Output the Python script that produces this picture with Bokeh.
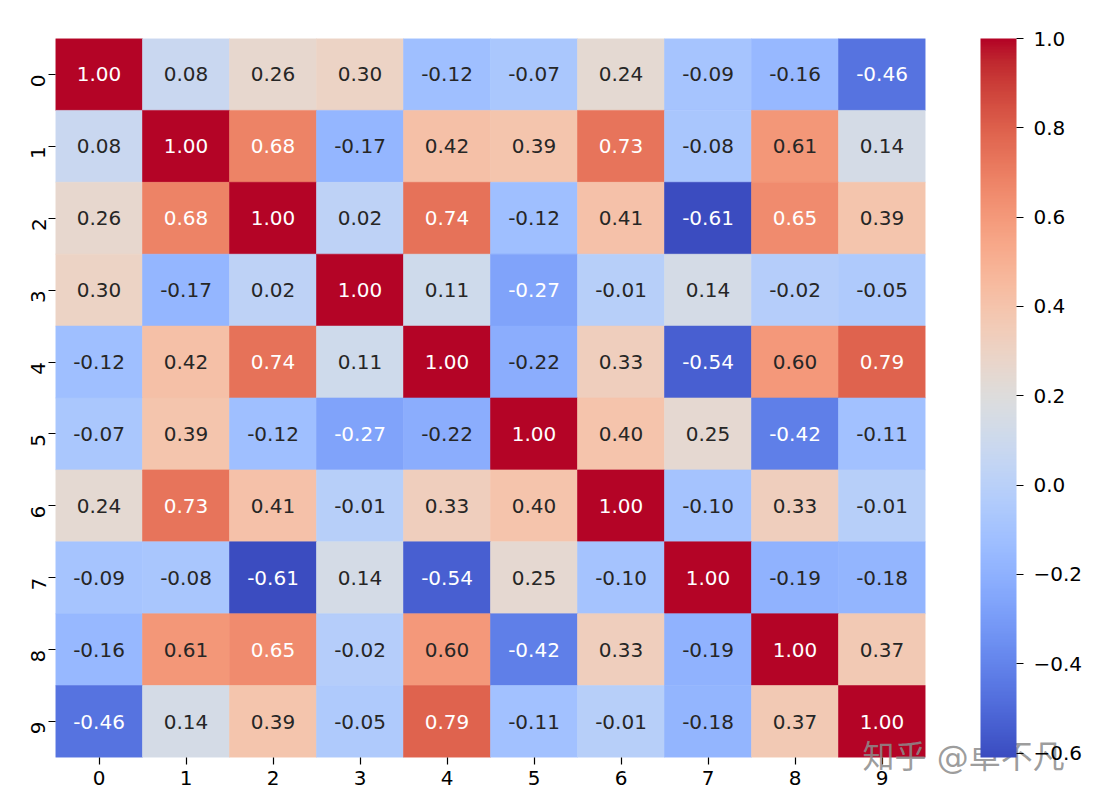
import numpy as np
from bokeh.plotting import figure
from bokeh.models import (ColumnDataSource, LinearColorMapper, ColorBar, FixedTicker,
                          CustomJSTickFormatter, Range1d, Label)
from bokeh.core.properties import value
from bokeh.embed import file_html
from bokeh.resources import INLINE

labels = ["0", "1", "2", "3", "4", "5", "6", "7", "8", "9"]
row_0 = [1.00, 0.08, 0.26, 0.30, -0.12, -0.07, 0.24, -0.09, -0.16, -0.46]
row_1 = [0.08, 1.00, 0.68, -0.17, 0.42, 0.39, 0.73, -0.08, 0.61, 0.14]
row_2 = [0.26, 0.68, 1.00, 0.02, 0.74, -0.12, 0.41, -0.61, 0.65, 0.39]
row_3 = [0.30, -0.17, 0.02, 1.00, 0.11, -0.27, -0.01, 0.14, -0.02, -0.05]
row_4 = [-0.12, 0.42, 0.74, 0.11, 1.00, -0.22, 0.33, -0.54, 0.60, 0.79]
row_5 = [-0.07, 0.39, -0.12, -0.27, -0.22, 1.00, 0.40, 0.25, -0.42, -0.11]
row_6 = [0.24, 0.73, 0.41, -0.01, 0.33, 0.40, 1.00, -0.10, 0.33, -0.01]
row_7 = [-0.09, -0.08, -0.61, 0.14, -0.54, 0.25, -0.10, 1.00, -0.19, -0.18]
row_8 = [-0.16, 0.61, 0.65, -0.02, 0.60, -0.42, 0.33, -0.19, 1.00, 0.37]
row_9 = [-0.46, 0.14, 0.39, -0.05, 0.79, -0.11, -0.01, -0.18, 0.37, 1.00]
rows = [row_0, row_1, row_2, row_3, row_4, row_5, row_6, row_7, row_8, row_9]
cbar_ticks = [-0.6, -0.4, -0.2, 0.0, 0.2, 0.4, 0.6, 0.8, 1.0]
watermark = "知乎 @卓不凡"

# matplotlib "coolwarm" anchor colours
cw = [
    (0.0, 0.2298057, 0.298717966, 0.753683153),
    (0.03125, 0.26623388, 0.353094838, 0.801466763),
    (0.0625, 0.30386891, 0.406535296, 0.84495867),
    (0.09375, 0.342804478, 0.458757618, 0.883725899),
    (0.125, 0.38301334, 0.50941904, 0.917387822),
    (0.15625, 0.424369608, 0.558148092, 0.945619588),
    (0.1875, 0.46666708, 0.604562568, 0.968154911),
    (0.21875, 0.509635204, 0.648280772, 0.98478814),
    (0.25, 0.552953156, 0.688929332, 0.995375608),
    (0.28125, 0.596262162, 0.726149107, 0.999836203),
    (0.3125, 0.639176211, 0.759599947, 0.998151185),
    (0.34375, 0.681291281, 0.788964712, 0.990363227),
    (0.375, 0.722193294, 0.813952739, 0.976574709),
    (0.40625, 0.761464949, 0.834302879, 0.956945269),
    (0.4375, 0.798691636, 0.849786142, 0.931688648),
    (0.46875, 0.833466556, 0.860207984, 0.901068838),
    (0.5, 0.865395197, 0.86541021, 0.865395561),
    (0.53125, 0.897787179, 0.848937047, 0.820880546),
    (0.5625, 0.924127593, 0.827384882, 0.774508472),
    (0.59375, 0.944468518, 0.800927443, 0.726736146),
    (0.625, 0.958852946, 0.769767752, 0.678007945),
    (0.65625, 0.96732803, 0.734132809, 0.628751763),
    (0.6875, 0.969954137, 0.694266682, 0.579375448),
    (0.71875, 0.966811177, 0.650421156, 0.530263762),
    (0.75, 0.958003065, 0.602842431, 0.481775914),
    (0.78125, 0.943660866, 0.551750968, 0.434243684),
    (0.8125, 0.923944917, 0.49730856, 0.387970225),
    (0.84375, 0.89904617, 0.439559467, 0.343229596),
    (0.875, 0.869186849, 0.378313092, 0.300267182),
    (0.90625, 0.834620542, 0.312874446, 0.259301199),
    (0.9375, 0.795631745, 0.24128379, 0.220525627),
    (0.96875, 0.752534934, 0.157246067, 0.184115123),
    (1.0, 0.705673158, 0.01555616, 0.150232812),
]
cw = np.array(cw)
t = np.linspace(0, 1, 256)
rgb = np.stack([np.interp(t, cw[:, 0], cw[:, k]) for k in (1, 2, 3)], axis=1)
palette = ["#%02x%02x%02x" % tuple(int(round(c * 255)) for c in col) for col in rgb]

vals = np.array(rows)
vmin, vmax = float(vals.min()), float(vals.max())
mapper = LinearColorMapper(palette=palette, low=vmin, high=vmax)

xs, ys, vs, txt, tcol = [], [], [], [], []
for i, r in enumerate(rows):
    for j, v in enumerate(r):
        xs.append(j + 0.5)
        ys.append(i + 0.5)
        vs.append(v)
        txt.append("%.2f" % v)
        idx = int(np.clip(round((v - vmin) / (vmax - vmin) * 255), 0, 255))
        c = rgb[idx]
        lin = np.where(c <= 0.03928, c / 12.92, ((c + 0.055) / 1.055) ** 2.4)
        lum = 0.2126 * lin[0] + 0.7152 * lin[1] + 0.0722 * lin[2]
        tcol.append("#262626" if lum > 0.408 else "#ffffff")

src = ColumnDataSource(dict(x=xs, y=ys, v=vs, t=txt, tc=tcol))

FRAME_H = 719
p = figure(frame_width=870, frame_height=FRAME_H, output_backend="svg", toolbar_location=None,
           x_range=Range1d(0, 10), y_range=Range1d(10, 0),
           min_border_left=55, min_border_top=0, min_border_bottom=49, min_border_right=173)
p.outline_line_color = None
p.grid.visible = False

p.rect(x="x", y="y", width=1, height=1, source=src,
       fill_color={"field": "v", "transform": mapper},
       line_color={"field": "v", "transform": mapper}, line_width=0.6)
p.text(x="x", y="y", text="t", source=src, text_color="tc", text_align="center",
       text_baseline="middle", text_font=value("DejaVu Sans"), text_font_size="20px")

tick_pos = [k + 0.5 for k in range(10)]
over = {k + 0.5: labels[k] for k in range(10)}
for ax in (p.xaxis[0], p.yaxis[0]):
    ax.ticker = FixedTicker(ticks=tick_pos)
    ax.major_label_overrides = over
    ax.axis_line_color = None
    ax.minor_tick_line_color = None
    ax.major_tick_in = 0
    ax.major_tick_out = 7
    ax.major_tick_line_color = "black"
    ax.major_tick_line_width = 1.2
    ax.major_label_text_font = "DejaVu Sans"
    ax.major_label_text_font_size = "20px"
    ax.major_label_text_color = "black"
    ax.major_label_standoff = 6
p.yaxis[0].major_label_orientation = np.pi / 2
p.yaxis[0].major_label_standoff = 10

cb = ColorBar(color_mapper=mapper, ticker=FixedTicker(ticks=cbar_ticks),
              formatter=CustomJSTickFormatter(code="return tick.toFixed(1).replace('-', '\u2212');"),
              width=36, height=FRAME_H, padding=0, margin=0, location=(55, 0),
              bar_line_color=None, major_tick_in=0, major_tick_out=7,
              major_tick_line_color="black", major_tick_line_width=1.2,
              minor_tick_line_color=None, label_standoff=10,
              major_label_text_font="DejaVu Sans", major_label_text_font_size="20px",
              major_label_text_color="black", background_fill_alpha=0, border_line_color=None)
p.add_layout(cb, "right")

# watermark placed in the top side panel so that it is not clipped to the frame
wm = Label(x=807, y=-718, x_units="screen", y_units="screen", text=watermark,
           text_font="DejaVu Sans, Noto Sans CJK SC", text_font_size="32px",
           text_color="#8c8c8c", text_alpha=0.85, text_baseline="middle", text_align="left")
p.add_layout(wm, "above")

open("out.html", "w").write(file_html(p, INLINE))
